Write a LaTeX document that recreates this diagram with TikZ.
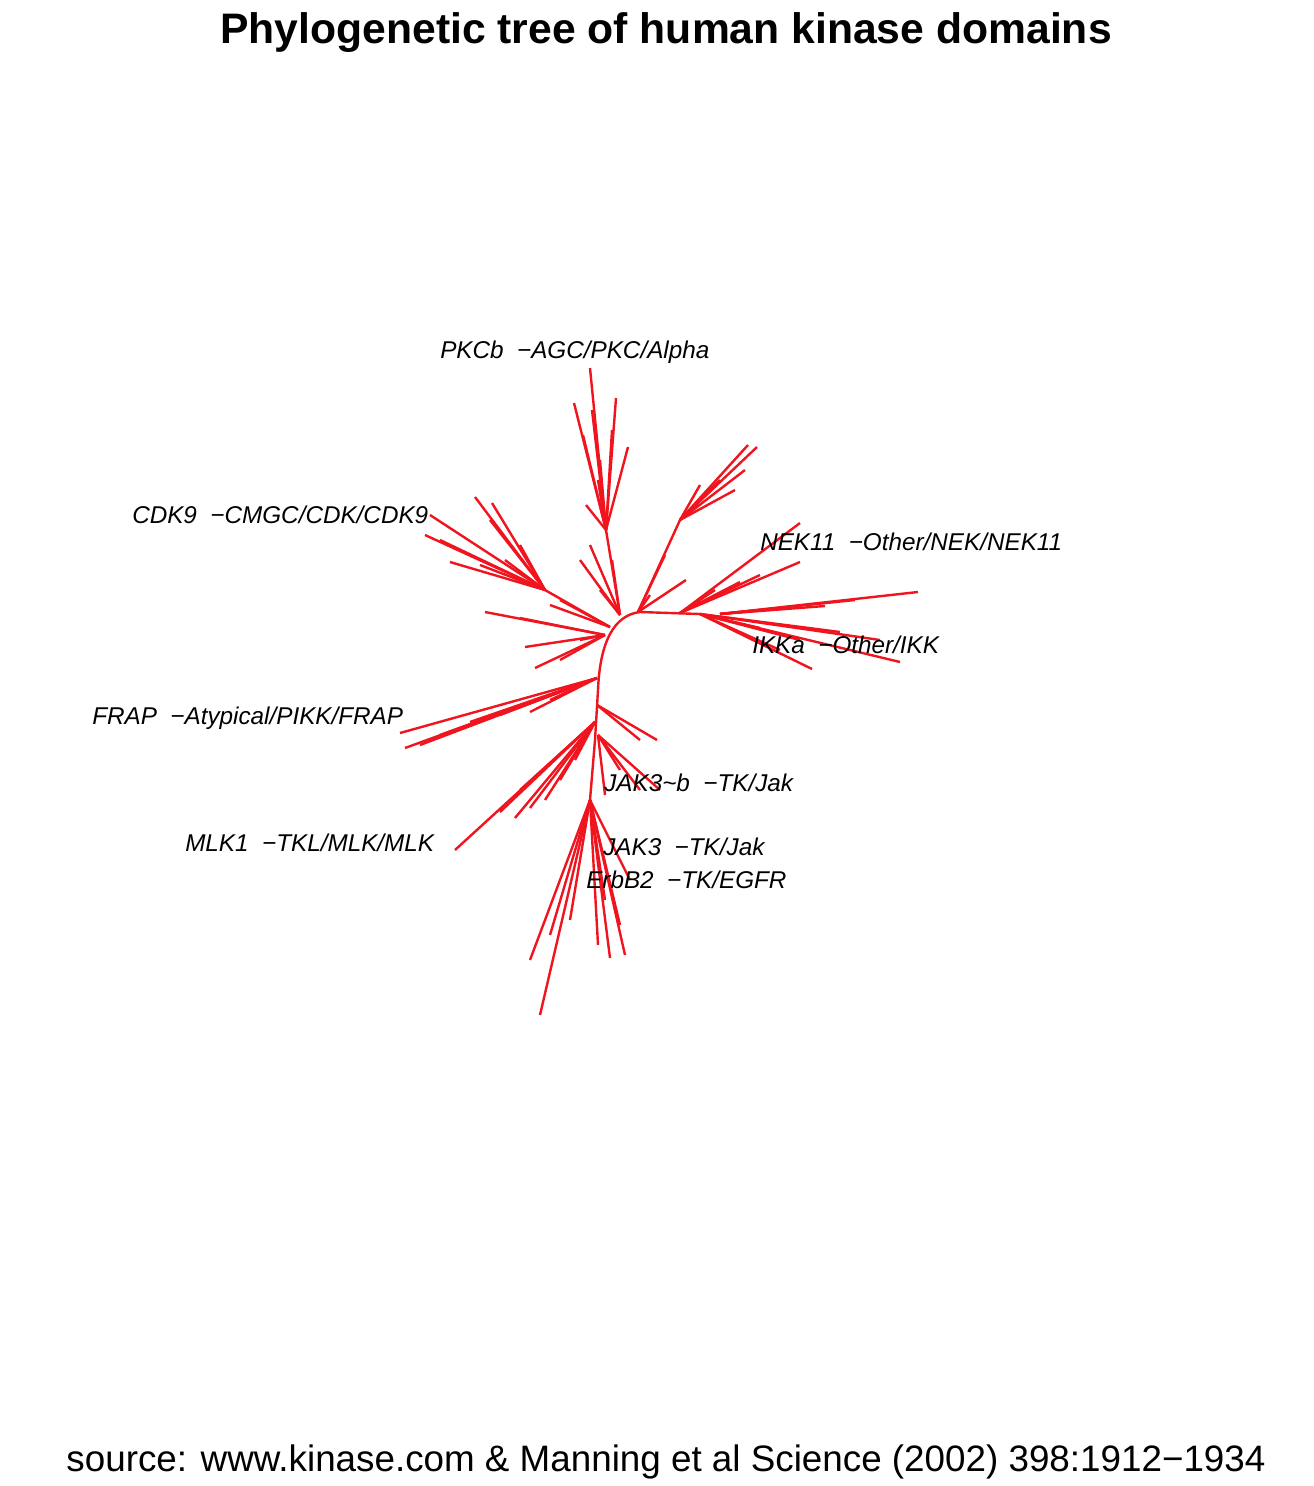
\documentclass[tikz,border=0pt]{standalone}
\usepackage{fontspec}
\setmainfont{Liberation Sans}
\definecolor{tree}{RGB}{240,20,30}
\begin{document}
\begin{tikzpicture}[x=0.75pt,y=-0.75pt,
  br/.style={draw=tree,line width=1.8pt},
  lab/.style={font=\itshape\fontsize{18.2}{19}\selectfont,anchor=west,inner sep=0pt}]
\useasboundingbox (0,0) rectangle (1314,1486);
\node[font=\bfseries\fontsize{32}{36}\selectfont] (title) at (666,33) {Phylogenetic tree of human kinase domains};
\node[font=\fontsize{27.6}{30}\selectfont] (src) at (666,1462) {source: www.kinase.com \& Manning et al Science (2002) 398:1912−1934};
% trunk
\draw[br] (700,614) -- (640,612) .. controls (615,615) and (600,640) .. (598,690) -- (595,740) -- (590,800);
% PKC clade
\coordinate (p0) at (620,615);
\coordinate (p1) at (606,530);
\draw[br] (p0) -- (p1);
\foreach \t in {(590,368),(592,410),(574,403),(616,398),(612,430),(628,447),(583,435),(600,460),(598,480),(586,505)} \draw[br] (p1) -- \t;
\foreach \t in {(580,560),(590,545),(600,590),(612,560)} \draw[br] (p0) -- \t;
% upper right clade
\coordinate (q0) at (638,612);
\coordinate (q1) at (680,520);
\draw[br] (q0) -- (q1);
\foreach \t in {(757,447),(748,445),(735,490),(720,480),(700,485),(745,470)} \draw[br] (q1) -- \t;
\foreach \t in {(686,580),(665,555),(650,595)} \draw[br] (q0) -- \t;
% NEK / Other clade
\coordinate (n0) at (680,613);
\draw[br] (n0) -- (800,523);
\foreach \t in {(800,562),(760,575),(740,582),(715,590),(700,600)} \draw[br] (n0) -- \t;
\coordinate (n1) at (720,614);
\draw[br] (n1) -- (918,592);
\foreach \t in {(855,600),(825,606),(790,608),(760,610)} \draw[br] (n1) -- \t;
\coordinate (n2) at (700,614);
\draw[br] (n2) -- (900,662);
\draw[br] (n2) -- (812,669);
\foreach \t in {(880,640),(840,632),(800,640),(780,650),(760,628)} \draw[br] (n2) -- \t;
% CDK clade
\coordinate (c0) at (610,627);
\coordinate (c1) at (545,590);
\draw[br] (c0) -- (c1);
\foreach \t in {(430,515),(475,497),(492,503),(425,535),(440,540),(450,562),(480,565),(505,560),(520,545),(490,520)} \draw[br] (c1) -- \t;
\foreach \t in {(550,605),(560,600)} \draw[br] (c0) -- \t;
% left middle
\coordinate (l0) at (605,635);
\foreach \t in {(485,612),(520,618),(525,647),(535,668),(560,660),(580,640)} \draw[br] (l0) -- \t;
% FRAP clade
\coordinate (f0) at (597,678);
\foreach \t in {(400,733),(405,748),(420,745),(440,735),(470,722),(500,715),(530,712),(550,700)} \draw[br] (f0) -- \t;
% MLK clade
\coordinate (m0) at (595,722);
\foreach \t in {(455,850),(500,812),(515,818),(530,808),(545,800),(560,780),(575,760),(520,790)} \draw[br] (m0) -- \t;
% JAK area
\coordinate (j0) at (597,705);
\foreach \t in {(657,740),(640,740)} \draw[br] (j0) -- \t;
\coordinate (j1) at (598,735);
\foreach \t in {(660,790),(640,790),(620,770),(605,795)} \draw[br] (j1) -- \t;
% bottom clade
\coordinate (b0) at (590,800);
\foreach \t in {(540,1015),(530,960),(550,935),(570,920),(610,958),(625,955),(598,945),(620,925),(605,900),(630,880)} \draw[br] (b0) -- \t;
% labels
\node[lab] (lpkc) at (440,352) {PKCb~~−AGC/PKC/Alpha};
\node[lab] (lcdk) at (132,515) {CDK9~~−CMGC/CDK/CDK9};
\node[lab] (lnek) at (760,542) {NEK11~~−Other/NEK/NEK11};
\node[lab] (likk) at (752,645) {IKKa~~−Other/IKK};
\node[lab] (lfrap) at (92,718) {FRAP~~−Atypical/PIKK/FRAP};
\node[lab] (ljakb) at (604,783) {JAK3\textasciitilde b~~−TK/Jak};
\node[lab] (lmlk) at (185,843) {MLK1~~−TKL/MLK/MLK};
\node[lab] (ljak) at (603,847) {JAK3~~−TK/Jak};
\node[lab] (lerb) at (586,880) {ErbB2~~−TK/EGFR};
\end{tikzpicture}
\end{document}
